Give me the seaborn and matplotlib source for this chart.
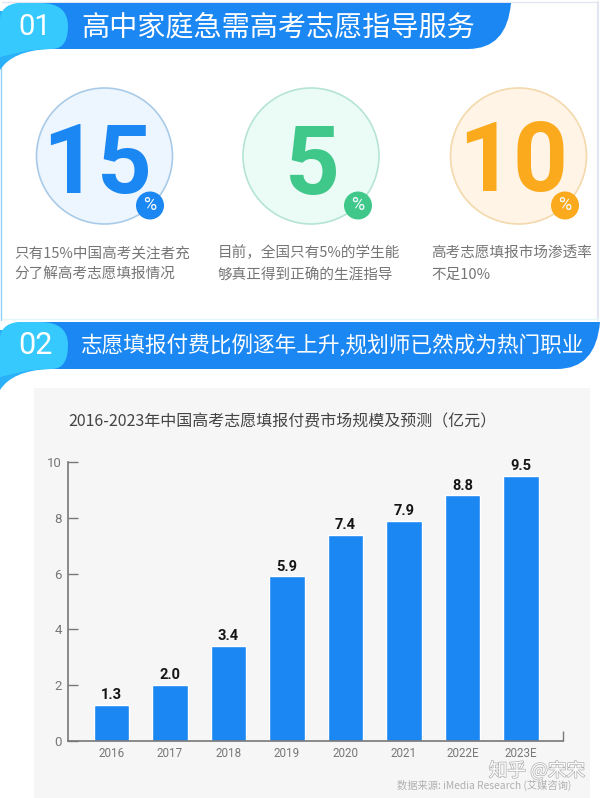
import matplotlib
matplotlib.use("Agg")
import matplotlib.pyplot as plt
from matplotlib.patches import Circle, PathPatch, Rectangle
from matplotlib.path import Path
import matplotlib.patheffects as pe
import seaborn as sns
import pandas as pd

years = ["2016", "2017", "2018", "2019", "2020", "2021", "2022E", "2023E"]
market_size = [1.3, 2.0, 3.4, 5.9, 7.4, 7.9, 8.8, 9.5]
y_ticks = [0, 2, 4, 6, 8, 10]
chart_title = "2016-2023年中国高考志愿填报付费市场规模及预测（亿元）"
source_text = "数据来源: iMedia Research (艾媒咨询)"
watermark = "知乎 @宋宋"
section_numbers = ["01", "02"]
section_titles = ["高中家庭急需高考志愿指导服务", "志愿填报付费比例逐年上升,规划师已然成为热门职业"]
stat_numbers = ["15", "5", "10"]
stat_lines = [
    ["只有15%中国高考关注者充", "分了解高考志愿填报情况"],
    ["目前，全国只有5%的学生能", "够真正得到正确的生涯指导"],
    ["高考志愿填报市场渗透率", "不足10%"],
]

sns.set_theme(style="white")
CJK = ["Noto Sans CJK SC", "DejaVu Sans"]
plt.rcParams["font.family"] = CJK
NUM = "Roboto"

BLUE, CYAN, SWOOSH = "#1b87f2", "#35c9fd", "#2ab0f8"
W, H = 600, 798
fig = plt.figure(figsize=(W / 100, H / 100), dpi=100, facecolor="white")

bg = fig.add_axes([0, 0, 1, 1], zorder=0)
bg.set_xlim(0, W)
bg.set_ylim(H, 0)
bg.axis("off")


def poly(ax, verts_codes, color, z=1):
    verts = [v for v, _ in verts_codes]
    codes = [c for _, c in verts_codes]
    ax.add_patch(PathPatch(Path(verts, codes), fc=color, ec="none", zorder=z))


M, L, C = Path.MOVETO, Path.LINETO, Path.CURVE3


def banner(top, bottom, right_end, tab_right):
    # swoosh behind the tab
    poly(bg, [((0, top + 8), M), ((0, bottom + 21), L), ((12, bottom + 2), C),
              ((48, bottom), C), ((70, bottom), L), ((70, top + 8), L), ((0, top + 8), L)], SWOOSH, 1)
    # blue band with curved right end
    poly(bg, [((20, top), M), ((right_end, top), L), ((right_end - 4, bottom), C),
              ((right_end - 43, bottom), C), ((20, bottom), L), ((20, top), L)], BLUE, 2)
    # cyan tab
    poly(bg, [((0, top + 18), M), ((0, top + 2), C), ((18, top), C), ((40, top), L),
              ((tab_right, top), C), ((tab_right, top + 23), C), ((tab_right, bottom), C),
              ((52, bottom), C), ((30, bottom + 1), L), ((0, bottom + 8), L), ((0, top + 18), L)], CYAN, 3)


# page frame lines
bg.plot([1.2, 1.2], [50, 320], color="#8fd0f5", lw=1, zorder=1)
bg.plot([598, 598], [2, 320], color="#e3e6f2", lw=1.5, zorder=1)
bg.plot([2, 598], [2, 2], color="#e3e6f2", lw=1, zorder=0.5)
bg.plot([2, 598], [318.5, 318.5], color="#e4f6f8", lw=1, zorder=1)

banner(3, 49, 511, 68)
banner(322, 369, 600, 68)

bg.text(35, 27, section_numbers[0], color="white", fontsize=21, family=NUM, ha="center", va="center", zorder=5)
bg.text(35, 346, section_numbers[1], color="white", fontsize=22, family=NUM, ha="center", va="center", zorder=5)
bg.text(81, 27, section_titles[0], color="white", fontsize=20.25, ha="left", va="center", zorder=5)
bg.text(81, 346, section_titles[1], color="white", fontsize=15.6, ha="left", va="center", zorder=5)

# stat circles
circle_x = [104.5, 311, 518.5]
digit_x = [97, 312, 513]
digit_base = [193, 194, 191]
badge_x = [150, 358, 565]
fills = ["#edf5fe", "#ebfcf6", "#fff4e5"]
edges = ["#a9cbe8", "#b5e5d2", "#f3d9ac"]
accent = [BLUE, "#3fc88a", "#fbaa1d"]
text_x = [14, 218, 431]
for i in range(3):
    bg.add_patch(Circle((circle_x[i], 156), 68, fc=fills[i], ec=edges[i], lw=1.2, zorder=2))
    bg.text(digit_x[i], digit_base[i], stat_numbers[i], color=accent[i], fontsize=69, fontweight="bold",
            family=NUM, ha="center", va="baseline", zorder=3)
    bg.add_patch(Circle((badge_x[i], 205.5), 14, fc=accent[i], ec="none", zorder=4))
    bg.text(badge_x[i], 205.5, "%", color="#f4fbff", fontsize=13, family=NUM, ha="center", va="center", zorder=5)
    for j, line in enumerate(stat_lines[i]):
        bg.text(text_x[i], 253 + 22 * j, line, color="#757575", fontsize=10.5, ha="left", va="center", zorder=5)

# chart panel
bg.add_patch(Rectangle((34, 388), 556, 410, fc="#f6f6f6", ec="none", zorder=1))
bg.text(68, 422, chart_title, color="#444444", fontsize=11.5, ha="left", va="center", zorder=5)
bg.text(571, 785, source_text, color="#b0b0b0", fontsize=7.4, ha="right", va="center", zorder=5)
wm = bg.text(585, 771, watermark, color="white", fontsize=13.4, ha="right", va="center", zorder=6)
wm.set_path_effects([pe.Stroke(linewidth=1.0, foreground="#b0b0b0"), pe.Normal()])

# bar chart
ax = fig.add_axes([67.5 / W, (H - 741) / H, (563 - 67.5) / W, (741 - 462) / H], zorder=1)
ax.patch.set_alpha(0)
df = pd.DataFrame({"year": years, "size": market_size})
sns.barplot(data=df, x="year", y="size", color=BLUE, saturation=1, width=0.6, ax=ax)
ax.set_xlim(-0.752, 7.718)
ax.set_ylim(0, 10)
ax.set_yticks(y_ticks)
ax.set_xlabel("")
ax.set_ylabel("")
sns.despine(ax=ax)
for s in ("left", "bottom"):
    ax.spines[s].set_color("#777777")
    ax.spines[s].set_linewidth(1.2)
ax.tick_params(axis="y", direction="in", length=7, width=1, color="#777777", labelcolor="#777777",
               labelsize=9.5, pad=4, left=True)
ax.tick_params(axis="x", length=0, labelcolor="#777777", labelsize=8.4, pad=4)
ax.set_xticks([ax.get_xlim()[1]], minor=True)
ax.tick_params(axis="x", which="minor", direction="in", length=7, width=1, color="#777777", bottom=True)
for lab in ax.get_xticklabels() + ax.get_yticklabels():
    lab.set_family(NUM)
for cont in ax.containers:
    labs = ax.bar_label(cont, fmt="%.1f", padding=2, color="#151515", fontsize=10.5, fontweight="bold", family=NUM)
    for t in labs:
        t.set_clip_on(False)

fig.savefig("out.png", dpi=100, facecolor="white")
